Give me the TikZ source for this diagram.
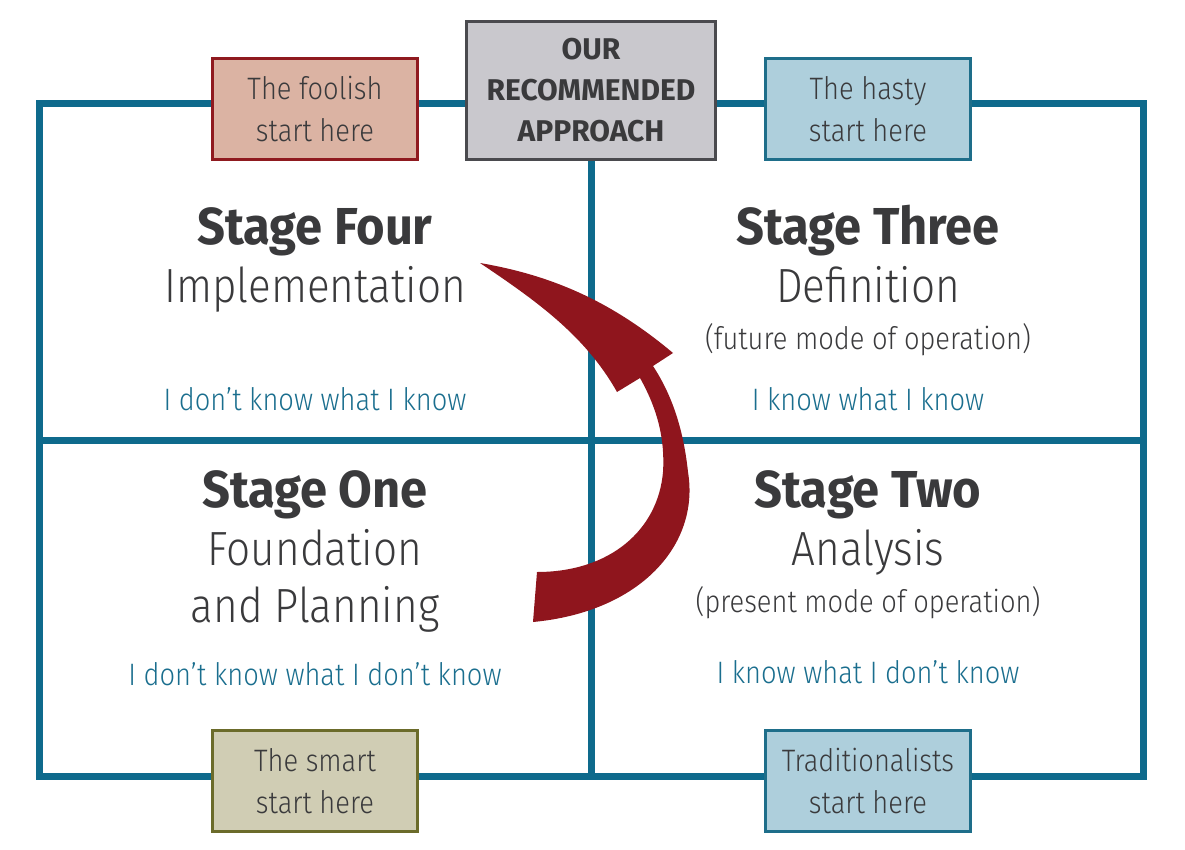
\documentclass[tikz,border=0pt]{standalone}
\usepackage{fontspec}
\setmainfont{Fira Sans}[UprightFont=* Light, BoldFont=* Bold, FakeStretch=0.88]
\newfontfamily\titlefont{Fira Sans Bold}
\newfontfamily\stagefont{Fira Sans Bold}[FakeStretch=0.94]
\begin{document}
\begin{tikzpicture}[x=1pt,y=-1pt]
\definecolor{gridblue}{HTML}{0E6A8C}
\definecolor{txtblue}{HTML}{1A6E8E}
\definecolor{txtgray}{HTML}{3A3A3C}
\definecolor{arrowred}{HTML}{8F151D}
\definecolor{foolfill}{HTML}{DBB3A3}
\definecolor{foolline}{HTML}{8F1A1F}
\definecolor{grayfill}{HTML}{C9C8CD}
\definecolor{grayline}{HTML}{4A4A4E}
\definecolor{bluefill}{HTML}{AECFDC}
\definecolor{blueline}{HTML}{1E6E8A}
\definecolor{smartfill}{HTML}{D0CDB4}
\definecolor{smartline}{HTML}{6B6B2A}
\tikzset{
  gridline/.style={draw=gridblue, line width=7pt},
  tagbox/.style={line width=3.5pt, minimum width=205pt, minimum height=101pt, inner sep=0pt, align=center, font=\fontsize{31}{42}\selectfont, text=txtgray},
  stagetitle/.style={font=\stagefont\fontsize{52}{60}\selectfont, text=txtgray, anchor=base},
  stagesub/.style={font=\fontsize{48}{56}\selectfont, text=txtgray, anchor=base},
  stagenote/.style={font=\fontsize{31}{36}\selectfont, text=txtgray, anchor=base},
  stageknow/.style={font=\fontsize{31}{36}\selectfont, text=txtblue, anchor=base},
}
\useasboundingbox (0,0) rectangle (1185,850);
% grid
\coordinate (tl) at (39,104);
\coordinate (br) at (1143,776);
\draw[gridline] (tl) rectangle (br);
\coordinate (vtop) at (591,150);
\coordinate (vbot) at (591,776);
\coordinate (hl) at (39,440);
\coordinate (hr) at (1143,440);
\draw[gridline] (vtop) -- (vbot);
\draw[gridline] (hl) -- (hr);
% boxes
\node[tagbox, draw=foolline, fill=foolfill] (fool) at (315,109) {The foolish\\start here};
\node[tagbox, draw=blueline, fill=bluefill] (hasty) at (868,109) {The hasty\\start here};
\node[tagbox, draw=smartline, fill=smartfill] (smart) at (315,781) {The smart\\start here};
\node[tagbox, draw=blueline, fill=bluefill] (trad) at (868,781) {Traditionalists\\start here};
\node[tagbox, draw=grayline, fill=grayfill, minimum width=249pt, minimum height=138pt, font=\titlefont\fontsize{30}{41}\selectfont] (rec) at (591,90.5) {OUR\\RECOMMENDED\\APPROACH};
% texts
\node[stagetitle] (s4) at (315,245) {Stage Four};
\node[stagesub] (s4a) at (315,302) {Implementation};
\node[stageknow] (s4k) at (315,410) {I don’t know what I know};
\node[stagetitle] (s3) at (868,245) {Stage Three};
\node[stagesub] (s3a) at (868,302) {Definition};
\node[stagenote] (s3b) at (868,349) {(future mode of operation)};
\node[stageknow] (s3k) at (868,410) {I know what I know};
\node[stagetitle] (s1) at (315,507) {Stage One};
\node[stagesub] (s1a) at (315,565) {Foundation};
\node[stagesub] (s1b) at (315,622) {and Planning};
\node[stageknow] (s1k) at (315,685) {I don’t know what I don’t know};
\node[stagetitle] (s2) at (868,507) {Stage Two};
\node[stagesub] (s2a) at (868,565) {Analysis};
\node[stagenote] (s2b) at (868,612) {(present mode of operation)};
\node[stageknow] (s2k) at (868,683) {I know what I don’t know};
% curved arrow
\fill[arrowred] (533,622) .. controls (640,612) and (700,545) .. (688,472)
  .. controls (683,425) and (670,392) .. (653,366) -- (673,353)
  .. controls (610,300) and (550,275) .. (480,263)
  .. controls (535,300) and (585,335) .. (617,392) -- (640,378)
  .. controls (658,410) and (665,440) .. (663,472)
  .. controls (658,530) and (610,572) .. (537,572) -- cycle;
\end{tikzpicture}
\end{document}
